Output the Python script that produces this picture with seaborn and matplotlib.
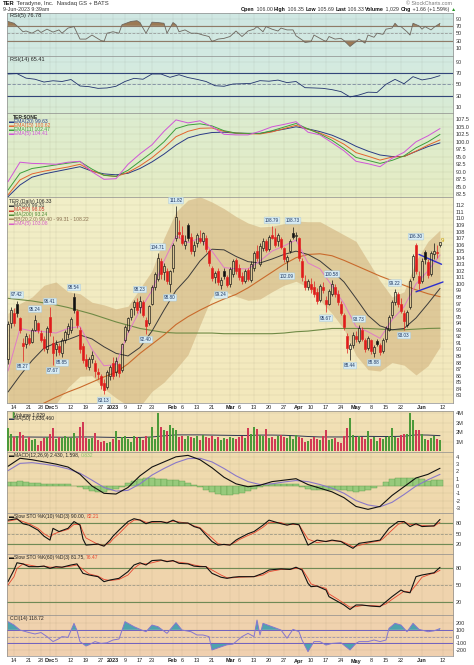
import numpy as np
import pandas as pd
import matplotlib
matplotlib.use("Agg")
import matplotlib.pyplot as plt
from matplotlib.colors import LinearSegmentedColormap
import seaborn as sns

# ------------------------------------------------------------------ data
holidays = ['2022-11-24', '2022-12-26', '2023-01-02', '2023-01-16',
            '2023-02-20', '2023-04-07', '2023-05-29']

opens = [88.5, 94.0, 95.5, 97.0, 94.8, 91.0, 90.8, 91.8, 91.2, 93.0,
         94.0, 92.5, 91.6, 90.0, 95.0, 91.0, 90.0, 90.5, 89.5, 91.5,
         92.3, 93.0, 98.0, 95.8, 93.0, 90.5, 88.6, 87.3, 88.6, 88.0,
         86.5, 86.0, 84.8, 84.2, 86.0, 88.0, 86.5, 87.8, 86.8, 91.5,
         93.0, 95.0, 96.5, 97.3, 96.5, 97.2, 94.5, 94.0, 97.0, 99.5,
         100.8, 103.5, 101.8, 102.0, 100.0, 102.5, 107.0, 108.0, 107.5, 106.0,
         109.0, 107.2, 105.0, 106.2, 107.0, 106.5, 107.0, 105.0, 102.5, 101.0,
         102.0, 99.8, 102.0, 101.0, 100.0, 101.5, 103.6, 102.5, 101.2, 100.5,
         102.2, 100.6, 102.5, 105.0, 103.0, 105.5, 106.5, 105.3, 107.5, 107.2,
         106.5, 106.8, 105.5, 103.5, 105.0, 107.8, 107.3, 107.0, 103.5, 100.5,
         99.6, 100.0, 99.5, 98.8, 97.6, 99.5, 97.5, 97.0, 98.5, 99.6,
         98.5, 97.0, 95.3, 92.0, 90.0, 90.6, 92.0, 91.3, 93.0, 91.5,
         90.2, 91.5, 89.5, 91.3, 90.6, 89.8, 91.6, 93.0, 95.2, 97.3,
         98.5, 97.0, 95.5, 93.8, 96.5, 101.0, 106.0, 101.2, 100.5, 104.8,
         103.4, 101.5, 104.5, 104.8, 106.00]
highs = [94.3, 96.5, 96.3, 97.42, 95.0, 91.8, 92.5, 92.3, 93.2, 95.24,
         94.2, 92.9, 92.0, 93.5, 96.41, 92.0, 91.5, 91.0, 91.8, 93.0,
         94.0, 95.0, 98.54, 96.2, 93.4, 91.0, 89.3, 88.8, 89.7, 88.4,
         87.2, 86.3, 85.5, 86.8, 87.6, 88.9, 88.8, 88.0, 91.0, 93.8,
         95.0, 96.3, 97.5, 97.8, 98.23, 97.5, 95.0, 96.8, 99.8, 101.8,
         104.71, 104.0, 103.2, 102.5, 102.2, 106.2, 111.82, 109.8, 108.8, 107.5,
         109.3, 107.8, 106.5, 107.8, 108.3, 108.0, 107.5, 105.3, 102.8, 102.0,
         102.4, 101.0, 102.5, 101.3, 102.6, 103.8, 104.0, 103.0, 101.8, 102.3,
         102.5, 103.5, 105.0, 105.9, 106.2, 107.0, 106.9, 107.5, 108.79, 108.5,
         107.8, 107.2, 105.7, 104.4, 106.8, 108.73, 108.0, 107.2, 104.0, 101.3,
         100.8, 100.9, 100.5, 99.4, 100.0, 100.3, 98.2, 99.2, 100.58, 100.0,
         99.0, 97.4, 95.6, 92.5, 91.0, 92.6, 92.8, 93.73, 93.4, 91.8,
         92.0, 91.6, 90.6, 91.6, 91.0, 91.8, 93.5, 95.3, 97.5, 99.22,
         98.8, 97.8, 96.0, 96.0, 100.8, 104.5, 106.30, 102.0, 104.0, 105.2,
         103.8, 105.0, 106.2, 106.0, 106.35]
lows = [87.8, 93.2, 93.6, 95.0, 92.5, 88.27, 90.2, 90.6, 91.0, 92.8,
        92.5, 91.2, 89.8, 89.5, 92.0, 87.67, 89.0, 89.2, 88.85, 91.0,
        91.8, 92.5, 95.5, 93.3, 89.5, 88.0, 87.0, 86.8, 88.0, 85.8,
        85.5, 84.0, 83.13, 84.0, 85.4, 85.5, 86.0, 85.8, 86.5, 91.2,
        92.6, 94.5, 95.3, 95.5, 95.6, 95.0, 92.40, 93.8, 96.8, 99.0,
        100.5, 100.8, 100.6, 100.0, 98.80, 101.8, 106.5, 107.0, 105.9, 105.3,
        106.6, 104.5, 104.2, 105.6, 106.2, 106.0, 104.9, 102.8, 100.5, 100.2,
        99.8, 99.24, 100.8, 99.5, 99.6, 101.0, 101.5, 100.6, 100.0, 100.2,
        100.4, 100.3, 102.0, 103.5, 102.7, 105.0, 104.8, 105.0, 106.8, 105.6,
        105.8, 105.3, 103.3, 102.09, 104.7, 106.9, 106.5, 103.5, 100.5, 99.0,
        99.0, 98.6, 98.0, 97.0, 97.3, 98.6, 95.67, 96.8, 98.2, 98.0,
        96.8, 95.2, 93.0, 89.5, 88.44, 90.2, 91.2, 91.0, 91.3, 89.6,
        89.9, 89.3, 88.88, 90.5, 89.2, 89.5, 91.2, 92.8, 94.8, 96.8,
        96.5, 95.5, 93.03, 93.4, 96.2, 100.6, 101.5, 99.3, 100.2, 103.0,
        100.9, 101.2, 103.8, 104.0, 105.69]
closes = [93.9, 96.0, 94.1, 95.6, 93.0, 90.5, 92.1, 91.0, 92.9, 94.5,
          93.0, 91.5, 90.2, 93.3, 92.6, 89.5, 90.8, 89.6, 91.4, 92.6,
          93.5, 94.6, 96.0, 93.8, 90.0, 88.4, 87.4, 88.5, 89.2, 86.7,
          86.2, 84.6, 83.8, 86.5, 87.3, 86.0, 88.2, 86.4, 90.8, 93.4,
          94.8, 96.1, 97.2, 96.0, 97.4, 95.3, 93.6, 96.6, 99.5, 101.5,
          104.0, 101.5, 102.7, 100.4, 101.9, 105.9, 110.2, 107.6, 106.2, 106.5,
          107.0, 105.0, 106.0, 107.5, 106.6, 107.8, 105.3, 103.2, 100.9, 101.6,
          100.3, 100.6, 101.2, 99.9, 102.3, 103.5, 101.9, 101.0, 100.5, 102.0,
          100.8, 103.1, 104.7, 104.0, 105.8, 106.6, 105.2, 107.2, 107.0, 106.0,
          107.4, 105.7, 103.8, 104.1, 106.5, 107.2, 107.5, 103.9, 101.0, 99.5,
          100.5, 99.2, 98.4, 97.4, 99.7, 99.0, 96.9, 98.9, 100.0, 98.4,
          97.2, 95.6, 93.4, 90.2, 90.6, 92.2, 91.6, 93.2, 91.6, 90.0,
          91.7, 89.7, 90.3, 90.9, 89.6, 91.4, 93.2, 95.0, 97.2, 98.8,
          96.9, 95.8, 94.3, 95.7, 100.5, 104.2, 102.0, 100.2, 103.5, 103.8,
          101.3, 104.7, 105.0, 104.67, 106.33]
volume_m = [2.5, 1.8, 1.5, 1.6, 2.0, 1.7, 1.3, 1.5, 1.2, 1.3,
            0.6, 1.1, 1.4, 1.5, 1.8, 2.4, 1.3, 1.5, 1.4, 1.6,
            1.5, 1.4, 1.9, 1.4, 2.6, 3.1, 1.4, 1.3, 1.4, 1.9,
            1.2, 1.0, 1.1, 0.9, 1.0, 1.3, 2.1, 1.2, 1.5, 1.6,
            1.3, 1.0, 1.6, 1.5, 1.4, 1.2, 1.6, 1.5, 2.6, 1.3,
            4.0, 2.6, 2.2, 2.1, 2.8, 2.5, 2.2, 1.5, 1.6, 1.3,
            1.6, 1.5, 1.4, 1.6, 1.2, 1.7, 1.5, 1.4, 1.6, 1.3,
            1.5, 1.2, 1.4, 1.3, 1.5, 1.4, 1.3, 1.5, 1.6, 1.4,
            2.4, 1.8, 2.6, 2.3, 1.7, 1.6, 2.3, 1.4, 1.5, 1.3,
            1.6, 1.7, 1.5, 1.4, 1.6, 1.3, 1.7, 1.5, 1.4, 1.0,
            1.1, 1.3, 1.5, 1.3, 1.2, 1.6, 2.2, 1.2, 1.3, 1.4,
            1.0, 0.9, 1.6, 2.4, 3.5, 1.7, 1.5, 1.6, 1.5, 1.3,
            2.1, 1.3, 1.5, 1.1, 1.4, 1.3, 1.5, 1.6, 2.4, 1.5,
            1.4, 1.7, 1.8, 1.8, 4.0, 3.3, 2.2, 2.2, 1.8, 1.3,
            1.2, 1.4, 1.6, 1.3, 1.2]

tick_dates = ['2022-11-14', '2022-11-21', '2022-11-28', '2022-12-01', '2022-12-05',
              '2022-12-12', '2022-12-19', '2022-12-27', '2023-01-03', '2023-01-09',
              '2023-01-17', '2023-01-23', '2023-02-01', '2023-02-06', '2023-02-13',
              '2023-02-21', '2023-03-01', '2023-03-06', '2023-03-13', '2023-03-20',
              '2023-03-27', '2023-04-03', '2023-04-10', '2023-04-17', '2023-04-24',
              '2023-05-01', '2023-05-08', '2023-05-15', '2023-05-22', '2023-06-01',
              '2023-06-12']
tick_labels = ['14', '21', '28', 'Dec', '5', '12', '19', '27', '2023', '9', '17', '23',
               'Feb', '6', '13', '21', 'Mar', '6', '13', '20', '27', 'Apr', '10', '17',
               '24', 'May', '8', '15', '22', 'Jun', '12']
bold_labels = ['Dec', '2023', 'Feb', 'Mar', 'Apr', 'May', 'Jun']

# smooth series sampled every 4 trading days (day 0, 4, ..., 144)
ema20 = [81.7, 85.6, 88.2, 89.3, 90.1, 90.9, 91.7, 90.2, 89.3, 89.0, 89.5, 91.1, 93.3,
         95.9, 98.9, 101.3, 102.4, 103.1, 103.2, 102.9, 102.8, 102.8, 103.5, 104.2, 105.0,
         104.3, 103.4, 102.2, 100.5, 98.5, 96.9, 95.6, 95.1, 95.1, 96.8, 98.4, 99.63]
ema15 = [82.3, 87.3, 89.3, 90.2, 90.9, 91.6, 92.5, 90.3, 88.9, 88.4, 89.8, 92.0, 94.7,
         98.0, 101.7, 103.5, 104.5, 104.6, 103.5, 102.9, 102.7, 102.6, 103.3, 104.4, 105.5,
         104.2, 102.9, 101.3, 99.2, 96.4, 95.2, 93.9, 94.9, 95.1, 96.9, 98.9, 100.62]
ema11 = [83.9, 89.5, 91.1, 91.7, 92.3, 92.9, 93.4, 90.9, 88.8, 88.5, 90.5, 93.5, 96.5,
         100.0, 104.4, 105.6, 106.0, 105.3, 103.7, 102.9, 102.8, 102.8, 103.7, 104.9, 106.1,
         104.3, 102.6, 100.5, 97.8, 94.8, 93.8, 92.8, 93.8, 95.3, 98.0, 100.0, 102.47]
ema5 = [86.7, 93.2, 92.8, 92.7, 92.5, 93.2, 93.5, 90.0, 87.5, 87.7, 92.5, 96.0, 99.0,
        103.5, 107.3, 106.3, 107.0, 105.0, 102.5, 102.3, 102.3, 103.5, 105.0, 105.8, 106.7,
        103.2, 102.3, 99.7, 97.0, 93.5, 92.7, 91.7, 94.5, 96.5, 100.0, 102.0, 104.41]
ma20 = [83.5, 86.0, 88.3, 90.2, 91.0, 91.5, 92.2, 91.6, 90.4, 89.4, 89.0, 90.3, 92.8,
        96.0, 99.0, 101.0, 103.5, 105.3, 105.2, 104.2, 103.4, 103.2, 103.8, 104.5, 105.0,
        104.5, 103.5, 102.0, 100.3, 97.8, 95.2, 93.6, 93.0, 93.2, 94.8, 97.0, 99.31]
ma50 = [79.5, 80.3, 81.0, 81.8, 82.7, 83.5, 84.2, 85.0, 85.8, 86.5, 87.8, 89.4, 90.8,
        92.2, 93.8, 95.0, 96.0, 96.9, 97.7, 98.4, 99.4, 100.6, 101.8, 103.0, 104.0,
        104.5, 104.6, 104.3, 103.6, 102.8, 102.0, 101.2, 100.5, 99.8, 99.1, 98.5, 98.05]
ma200 = [97.8, 97.6, 97.4, 97.1, 96.8, 96.4, 95.9, 95.4, 94.8, 94.2, 93.7, 93.2, 92.9,
         92.6, 92.5, 92.5, 92.5, 92.5, 92.4, 92.4, 92.4, 92.4, 92.4, 92.5, 92.7,
         92.8, 93.0, 93.2, 93.2, 93.2, 93.2, 93.1, 93.0, 93.0, 93.1, 93.2, 93.24]
bb_upper = [95.5, 97.0, 98.0, 99.8, 100.3, 98.8, 98.5, 97.2, 96.8, 96.2, 96.6, 99.3, 102.0,
            107.0, 111.0, 112.8, 113.3, 112.5, 111.5, 110.3, 109.3, 108.7, 108.8, 109.2, 109.6,
            109.5, 109.5, 108.5, 107.5, 106.5, 103.5, 100.5, 98.0, 98.8, 103.5, 106.5, 108.22]
bb_lower = [71.5, 75.0, 78.6, 80.6, 81.7, 84.2, 85.9, 86.0, 84.0, 82.6, 81.4, 81.3, 83.6,
            85.0, 87.0, 89.2, 93.7, 98.1, 98.9, 98.1, 97.5, 97.7, 98.8, 99.8, 100.4,
            99.5, 97.5, 95.5, 93.1, 89.1, 86.9, 86.7, 88.0, 87.6, 86.1, 87.5, 90.40]
vol_ma_m = [1.50, 1.50, 1.49, 1.48, 1.48, 1.47, 1.50, 1.50, 1.47, 1.45, 1.44, 1.45, 1.50,
            1.62, 1.72, 1.72, 1.72, 1.70, 1.68, 1.66, 1.66, 1.70, 1.70, 1.68, 1.62,
            1.55, 1.50, 1.50, 1.50, 1.56, 1.56, 1.55, 1.55, 1.58, 1.72, 1.70, 1.64]
macd_line = [2.7, 3.8, 3.6, 3.3, 3.0, 2.6, 1.6, 0.0, -1.0, -1.1, -0.2, 1.4, 2.6,
             3.3, 4.0, 4.2, 3.6, 2.5, 1.2, 0.3, -0.1, 0.1, 0.6, 0.8, 1.0,
             0.2, -0.3, -0.8, -1.6, -2.8, -3.2, -2.8, -1.3, -0.1, 1.1, 1.6, 2.43]
macd_signal = [2.1, 3.1, 3.2, 3.0, 2.75, 2.35, 1.75, 0.8, -0.2, -0.7, -0.6, 0.3, 1.5,
               2.4, 3.2, 3.75, 3.8, 3.3, 2.4, 1.4, 0.6, 0.2, 0.3, 0.55, 0.75,
               0.6, 0.2, -0.3, -1.0, -2.0, -2.6, -2.85, -2.24, -1.17, 0.0, 0.86, 1.598]
# histogram sampled every 2 trading days
macd_hist = [0.5, 0.6, 0.7, 0.55, 0.4, 0.35, 0.3, 0.28, 0.25, 0.25, 0.22, 0.05, -0.15,
             -0.45, -0.75, -0.85, -0.8, -0.6, -0.4, -0.1, 0.35, 0.75, 1.0, 1.1, 1.1,
             1.0, 0.9, 0.85, 0.8, 0.65, 0.45, 0.15, -0.2, -0.5, -0.8, -1.05, -1.2,
             -1.2, -1.1, -0.9, -0.7, -0.4, -0.1, 0.15, 0.3, 0.3, 0.25, 0.25, 0.25,
             -0.1, -0.4, -0.5, -0.5, -0.5, -0.5, -0.55, -0.6, -0.7, -0.8, -0.75, -0.6,
             -0.3, 0.05, 0.5, 0.9, 1.05, 1.07, 1.1, 1.1, 0.9, 0.74, 0.78, 0.83]
# RSI(14) sampled every 3 trading days
rsi14 = [68.3, 69.0, 61.0, 59.0, 54.0, 56.3, 55.0, 58.5, 47.0, 45.8, 42.8, 43.5, 46.5,
         55.0, 60.6, 59.0, 68.3, 68.3, 62.4, 67.0, 62.0, 58.8, 55.0, 47.5, 46.5,
         50.5, 51.0, 51.7, 56.5, 55.5, 57.5, 53.0, 55.0, 44.0, 43.5, 42.8, 40.5,
         37.0, 27.5, 31.0, 36.0, 35.5, 50.0, 58.8, 51.0, 63.6, 57.8, 60.6, 65.41]
rsi5_day = [0, 2, 3, 5, 6, 8, 10, 11, 13, 15, 17, 18, 20, 22, 24, 26, 28, 31, 32, 33,
            35, 37, 38, 41, 43, 44, 45, 46, 48, 50, 52, 53, 55, 56, 57, 59, 61, 63, 65, 67,
            68, 70, 72, 74, 76, 78, 80, 82, 83, 85, 86, 88, 90, 91, 93, 95, 96, 98, 99, 101,
            102, 104, 106, 107, 109, 111, 112, 114, 116, 117, 119, 120, 122, 123, 125, 126,
            128, 129, 130, 131, 133, 134, 135, 137, 138, 139, 141, 142, 144]
rsi5 = [82, 77, 70, 54, 56, 50, 59, 52, 61, 53, 59, 50, 64, 68, 34, 34, 45, 30, 27, 50,
        54, 50, 73, 82, 84, 79, 64, 50, 80, 79, 77, 50, 79, 73, 54, 59, 50, 50, 45, 41,
        27, 34, 36, 41, 56, 41, 56, 61, 68, 54, 68, 61, 56, 64, 59, 59, 43, 32, 25, 27,
        45, 36, 27, 41, 34, 36, 30, 14, 27, 34, 23, 45, 39, 50, 47, 61, 64, 77, 68, 68,
        54, 45, 77, 70, 61, 68, 59, 66, 76.78]
sto10_day = [0, 3, 5, 7, 10, 12, 14, 15, 17, 20, 22, 24, 25, 26, 30, 32, 34, 35, 37, 40,
             42, 44, 46, 48, 51, 53, 55, 57, 60, 62, 64, 66, 68, 70, 72, 74, 76, 77, 80, 82,
             85, 87, 91, 93, 95, 97, 100, 103, 106, 108, 111, 113, 115, 117, 121, 124, 125,
             127, 130, 132, 134, 136, 138, 142, 144]
sto10_k = [88, 92, 78, 74, 60, 43, 32, 65, 56, 65, 84, 74, 35, 18, 21, 15, 32, 43, 60, 84,
           92, 88, 78, 84, 84, 80, 88, 80, 80, 70, 65, 46, 28, 18, 20, 18, 32, 37, 50, 56,
           74, 88, 78, 74, 78, 75, 18, 32, 28, 32, 28, 18, 9, 23, 28, 32, 43, 65, 84, 84,
           70, 78, 70, 72, 90.00]
sto10_d = [85, 90, 84, 78, 65, 50, 40, 48, 55, 62, 76, 76, 55, 38, 20, 17, 25, 35, 50, 76,
           88, 89, 82, 82, 83, 82, 85, 83, 79, 72, 67, 52, 38, 22, 19, 19, 27, 33, 45, 52,
           68, 82, 81, 75, 76, 75, 35, 25, 29, 30, 29, 22, 13, 17, 26, 30, 36, 52, 76, 83,
           76, 75, 73, 71, 82.21]
sto60_day = [0, 2, 3, 5, 7, 10, 12, 14, 16, 18, 21, 23, 25, 27, 30, 32, 34, 37, 40, 42,
             44, 46, 48, 51, 53, 55, 57, 60, 62, 64, 66, 68, 71, 73, 75, 77, 82, 85, 87, 91,
             94, 96, 98, 100, 101, 103, 106, 107, 110, 112, 114, 116, 118, 121, 124, 126,
             128, 131, 132, 134, 136, 138, 141, 142, 144]
sto60_k = [56, 77, 90, 88, 83, 83, 84, 80, 83, 82, 86, 88, 71, 68, 65, 56, 59, 62, 74, 86,
           90, 86, 94, 95, 92, 94, 89, 88, 84, 83, 83, 71, 64, 62, 64, 65, 65, 71, 77, 79,
           78, 82, 77, 53, 47, 48, 41, 29, 20, 14, 6, 14, 14, 12, 11, 20, 29, 41, 38, 36,
           65, 68, 71, 72, 81.75]
sto60_d = [50, 65, 80, 88, 86, 83, 84, 82, 82, 82, 84, 86, 78, 70, 66, 60, 58, 60, 68, 80,
           88, 88, 90, 94, 93, 93, 91, 89, 86, 84, 83, 77, 68, 63, 63, 64, 65, 68, 74, 78,
           78, 80, 79, 62, 52, 48, 44, 34, 24, 17, 10, 11, 13, 13, 12, 16, 24, 35, 39, 37,
           50, 64, 70, 71, 76.47]
cci_day = [0, 2, 4, 6, 7, 9, 11, 13, 15, 17, 18, 20, 21, 22, 23, 24, 26, 27, 29, 31,
           33, 35, 37, 39, 42, 44, 46, 48, 50, 53, 56, 58, 61, 63, 65, 67, 68, 71, 73, 75,
           78, 80, 82, 83, 84, 85, 88, 91, 93, 95, 97, 98, 100, 102, 104, 106, 108, 111,
           114, 116, 117, 120, 122, 124, 126, 127, 129, 131, 133, 135, 137, 140, 142, 144]
cci = [220, 170, 97, 72, 60, 39, 60, 0, -73, -30, 0, -10, 90, 195, 90, -73, -138, -120,
       -73, -100, -90, -50, -35, 220, 146, 107, 72, 170, 146, 48, 205, 97, 72, 24, 24, 0,
       -196, -150, -120, -110, 0, 48, 0, 244, 24, 195, 146, 97, -24, 107, 72, -50, -221,
       -73, -73, -124, -100, -90, -196, -100, -73, -73, -50, -73, -50, 122, 195, 170, 72,
       195, 107, 72, 85, 118.72]

high_marks = [(3, 97.42), (9, 95.24), (14, 96.41), (22, 98.54), (44, 98.23), (50, 104.71),
              (56, 111.82), (88, 108.79), (95, 108.73), (108, 100.58), (117, 93.73),
              (129, 99.22), (136, 106.30)]
low_marks = [(5, 88.27), (15, 87.67), (18, 88.85), (32, 83.13), (46, 92.40), (54, 98.80),
             (71, 99.24), (93, 102.09), (106, 95.67), (114, 88.44), (122, 88.88), (132, 93.03)]
tri_upper_day, tri_upper_val = [137, 144.5], [104.5, 103.0]
tri_lower_day, tri_lower_val = [136, 145], [98.8, 100.3]

# ------------------------------------------------------------------ setup
sns.set_theme(style="white")
plt.rcParams['font.family'] = ['Liberation Sans', 'DejaVu Sans']
W, H = 474, 665
fig = plt.figure(figsize=(W / 100, H / 100), dpi=100)
fig.patch.set_facecolor('white')

cal = pd.bdate_range('2022-11-10', '2023-06-16')
cal = cal[~cal.isin(pd.to_datetime(holidays))]
day_of = {d.strftime('%Y-%m-%d'): k for k, d in enumerate(cal)}
tick_pos = [day_of[d] for d in tick_dates]

days = np.arange(len(closes))
d4 = np.arange(0, len(closes), 4)
d3 = np.arange(0, len(closes), 3)
d2 = np.arange(0, len(closes), 2)
o, h, l, c = map(np.array, (opens, highs, lows, closes))

XL = (-0.33, 148.33)
GRID = (0.25, 0.25, 0.15, 0.13)
FS = 4.0


def make_ax(y0, y1, ylim, c_top, c_bot, ticks, labels):
    ax = fig.add_axes([7 / W, 1 - y1 / H, 446 / W, (y1 - y0) / H])
    cmap = LinearSegmentedColormap.from_list('bg', [c_top, c_bot])
    ax.imshow(np.linspace(0, 1, 64).reshape(-1, 1), cmap=cmap, extent=[0, 1, 0, 1],
              transform=ax.transAxes, aspect='auto', zorder=-20, interpolation='bilinear')
    ax.set_xlim(XL)
    ax.set_ylim(ylim)
    ax.set_xticks([])
    ax.set_yticks(ticks)
    ax.set_yticklabels(labels)
    ax.yaxis.tick_right()
    ax.tick_params(axis='y', length=0, labelsize=FS, pad=2, labelcolor='#333333')
    for s in ax.spines.values():
        s.set_color('#8c8c8c')
        s.set_linewidth(0.5)
    for t in tick_pos:
        ax.axvline(t, color=GRID, lw=0.35, zorder=-10)
    for t in ticks:
        ax.axhline(t, color=GRID, lw=0.35, zorder=-10)
    ax.set_xlabel('')
    ax.set_ylabel('')
    return ax


def line(ax, x, y, color, lw=0.7, **kw):
    sns.lineplot(x=np.asarray(x, float), y=np.asarray(y, float), ax=ax, color=color,
                 linewidth=lw, estimator=None, sort=False, legend=False, **kw)
    ax.set_xlabel('')
    ax.set_ylabel('')


def seq_text(x_px, y_px, parts, ha='left', size=FS):
    r = fig.canvas.get_renderer()
    objs, widths = [], []
    for t, w, col in parts:
        ob = fig.text(0, 0, t, fontsize=size, fontweight=w, color=col, va='center', ha='left')
        widths.append(ob.get_window_extent(renderer=r).width)
        objs.append(ob)
    x = x_px if ha == 'left' else x_px - sum(widths)
    for ob, wd in zip(objs, widths):
        ob.set_position((x / W, 1 - y_px / H))
        x += wd


def date_axis(ax, frac):
    for p, lab in zip(tick_pos, tick_labels):
        ax.text(p, frac, lab, transform=ax.get_xaxis_transform(), ha='center', va='center',
                fontsize=FS, color='#222222',
                fontweight='bold' if lab in bold_labels else 'normal')

# ------------------------------------------------------------------ RSI(5)
ax = make_ax(13, 56, (-12, 105), '#cfe7e3', '#d3eae2', [90, 70, 50, 30, 10],
             ['90', '70', '50', '30', '10'])
rv = np.array(rsi5, float)
rd = np.array(rsi5_day, float)
ax.fill_between(rd, rv, 70, where=rv > 70, interpolate=True, color='#9c7a55', lw=0)
ax.fill_between(rd, rv, 30, where=rv < 30, interpolate=True, color='#9c7a55', lw=0)
ax.axhline(70, color='#8f7b68', lw=0.8)
ax.axhline(30, color='#8f7b68', lw=0.8)
ax.axhline(50, color='#8f8f8f', lw=0.5, ls=(0, (4, 2)))
line(ax, rd, rv, '#6e675f', lw=0.6)
seq_text(10, 16, [('RSI(5) 76.78', 'normal', '#222222')])

# ------------------------------------------------------------------ RSI(14)
ax = make_ax(56, 113, (-1, 100.3), '#d3eae2', '#d9ecd4', [90, 70, 50, 30, 10],
             ['90', '70', '50', '30', '10'])
ax.axhline(70, color='#33457a', lw=0.8)
ax.axhline(30, color='#33457a', lw=0.8)
ax.axhline(50, color='#7d8aa0', lw=0.6, ls=(0, (4, 2)))
line(ax, d3, rsi14, '#22336e', lw=0.6)
seq_text(10, 59, [('RSI(14) 65.41', 'normal', '#222222')])

# ------------------------------------------------------------------ EMA panel
ema_ticks = [107.5, 105.0, 102.5, 100.0, 97.5, 95.0, 92.5, 90.0, 87.5, 85.0, 82.5]
ax = make_ax(113, 197, (81.6, 109.6), '#dcecd0', '#e6edc4', ema_ticks,
             [f'{t:.1f}' for t in ema_ticks])
line(ax, d4, ema20, '#2a3a86', lw=0.7)
line(ax, d4, ema15, '#e3642e', lw=0.7)
line(ax, d4, ema11, '#3c9f3c', lw=0.7)
line(ax, d4, ema5, '#d055d8', lw=0.7)
seq_text(13, 117, [('TER:\\$ONE', 'bold', '#222222')], size=3.6)
seq_text(9, 121.5, [('\u25ac', 'normal', '#2a3a86'), ('EMA(20) 99.63', 'normal', '#2a3a86')], size=3.6)
seq_text(9, 125.5, [('\u25ac', 'normal', '#e3642e'), ('EMA(15) 100.62', 'normal', '#e3642e')], size=3.6)
seq_text(9, 129.5, [('\u25ac', 'normal', '#3c9f3c'), ('EMA(11) 102.47', 'normal', '#3c9f3c')], size=3.6)
seq_text(9, 133.5, [('\u25ac', 'normal', '#d055d8'), ('EMA(5) 104.41', 'normal', '#d055d8')], size=3.6)

# ------------------------------------------------------------------ price panel
pt = list(range(83, 113))
ax = make_ax(197, 403, (81.82, 113.27), '#f1efc8', '#f4e8bc', pt, [str(t) for t in pt])
ax.fill_between(d4, bb_lower, bb_upper, color='#cfae78', alpha=0.55, lw=0, zorder=-5)
line(ax, d4, ma200, '#6f8a45', lw=0.8)
line(ax, d4, ma50, '#c96a2c', lw=0.8)
line(ax, d4, ma20, '#3a3a3a', lw=0.7)
line(ax, d4, ema5, '#e07ac8', lw=0.7)

prev = np.r_[c[0] - 1, c[:-1]]
ccol = np.where(c < prev, '#e01b1b', '#111111')
top = np.maximum(o, c)
bot = np.minimum(o, c)
ax.vlines(days, top, h, colors=ccol, lw=0.5, zorder=3)
ax.vlines(days, l, bot, colors=ccol, lw=0.5, zorder=3)
filled = c < o
face = [cc if f else 'none' for cc, f in zip(ccol, filled)]
ax.bar(days, np.maximum(top - bot, 0.06), bottom=bot, width=0.62, color=face,
       edgecolor=ccol, linewidth=0.45, zorder=4)

line(ax, tri_upper_day, tri_upper_val, '#2b2fd0', lw=1.0)
line(ax, tri_lower_day, tri_lower_val, '#2b2fd0', lw=1.0)
ax.text(144.7, 106.6, '9', fontsize=4.5, color='#c9a000', ha='center', va='center')

bbx = dict(boxstyle='round,pad=0.18', fc='#d7ebf3', ec='#a7c7d6', lw=0.3)
for d, v in high_marks:
    ax.annotate(f'{v:.2f}', (d, v), xytext=(0, 2.5), textcoords='offset points',
                ha='center', va='bottom', fontsize=3.3, color='#1d355f', bbox=bbx, zorder=6)
for d, v in low_marks:
    ax.annotate(f'{v:.2f}', (d, v), xytext=(0, -2.5), textcoords='offset points',
                ha='center', va='top', fontsize=3.3, color='#1d355f', bbox=bbx, zorder=6)

seq_text(9, 201, [('TER (Daily) 106.33', 'normal', '#222222')], size=3.6)
seq_text(9, 205.5, [('\u25ac', 'normal', '#3a3a3a'), ('MA(20) 99.31', 'normal', '#3a3a3a')], size=3.6)
seq_text(9, 210, [('\u25ac', 'normal', '#c93a2c'), ('MA(50) 98.05', 'normal', '#c93a2c')], size=3.6)
seq_text(9, 214.5, [('\u25ac', 'normal', '#4f8a35'), ('MA(200) 93.24', 'normal', '#4f8a35')], size=3.6)
seq_text(9, 219, [('\u25ac', 'normal', '#a88a5a'), ('BB(20,2.0) 90.40 - 99.31 - 108.22', 'normal', '#8a7050')], size=3.6)
seq_text(9, 223.5, [('\u25ac', 'normal', '#d860c8'), ('EMA(5) 103.08', 'normal', '#d860c8')], size=3.6)
date_axis(ax, -4.2 / 206)

# ------------------------------------------------------------------ volume
ax = make_ax(411, 452, (-0.1, 4.26), '#f2e2b8', '#f0dcb0', [1, 2, 3, 4],
             ['1M', '2M', '3M', '4M'])
vcol = np.where(c < prev, '#d23a55', '#4c9a3a')
ax.bar(days, volume_m, width=0.72, color=vcol, linewidth=0, zorder=3)
line(ax, d4, vol_ma_m, '#2d3550', lw=0.7)
seq_text(10, 414.5, [('\u2590', 'normal', '#4c9a3a'), ('Volume 1,029', 'normal', '#222222')], size=3.6)
seq_text(9, 418.5, [('\u25ac', 'normal', '#2d3550'), ('MA(50) 1,636,460', 'normal', '#222222')], size=3.6)

# ------------------------------------------------------------------ MACD
mt = [4, 3, 2, 1, 0, -1, -2, -3]
ax = make_ax(452, 513, (-3.7, 4.66), '#f0dcb0', '#efd8ad', mt, [str(t) for t in mt])
ax.bar(d2, macd_hist, width=1.9, color='#97ca7c', edgecolor='#5f9e4a', linewidth=0.3, zorder=2)
line(ax, d4, macd_signal, '#8a78c8', lw=0.8)
line(ax, d4, macd_line, '#111111', lw=0.8)
seq_text(9, 455.5, [('\u25ac', 'normal', '#111111'), ('MACD(12,26,9) 2.430, 1.598, ', 'normal', '#222222'),
                    ('0.832', 'normal', '#8cc46a')], size=3.6)

# ------------------------------------------------------------------ Slow STO 10
ax = make_ax(513, 554, (-6.9, 108), '#efd8ad', '#efd5ac', [80, 50, 20], ['80', '50', '20'])
ax.axhline(80, color='#6f8a55', lw=0.8)
ax.axhline(20, color='#6f8a55', lw=0.8)
ax.axhline(50, color='#8f8f80', lw=0.5, ls=(0, (4, 2)))
line(ax, sto10_day, sto10_d, '#e8452f', lw=0.6)
line(ax, sto10_day, sto10_k, '#111111', lw=0.8)
seq_text(9, 516.5, [('\u25ac', 'normal', '#111111'), ('Slow STO %K(10) %D(3) 90.00, ', 'normal', '#222222'),
                    ('82.21', 'normal', '#e8452f')], size=3.6)

# ------------------------------------------------------------------ Slow STO 60
ax = make_ax(554, 615, (-4, 105.8), '#efd5ac', '#f0d3ae', [80, 50, 20], ['80', '50', '20'])
ax.axhline(80, color='#6f8a55', lw=0.8)
ax.axhline(20, color='#6f8a55', lw=0.8)
ax.axhline(50, color='#8f8f80', lw=0.5, ls=(0, (4, 2)))
line(ax, sto60_day, sto60_d, '#e8452f', lw=0.6)
line(ax, sto60_day, sto60_k, '#111111', lw=0.8)
seq_text(9, 557.5, [('\u25ac', 'normal', '#111111'), ('Slow STO %K(60) %D(3) 81.75, ', 'normal', '#222222'),
                    ('76.47', 'normal', '#e8452f')], size=3.6)

# ------------------------------------------------------------------ CCI
ct = [200, 100, 0, -100, -200]
ax = make_ax(615, 656, (-285, 318), '#f0d3ae', '#f1d0b0', ct, [str(t) for t in ct])
cv = np.array(cci, float)
cd = np.array(cci_day, float)
ax.fill_between(cd, cv, 100, where=cv > 100, interpolate=True, color='#4ea3ae', lw=0)
ax.fill_between(cd, cv, -100, where=cv < -100, interpolate=True, color='#4ea3ae', lw=0)
ax.axhline(100, color='#7060c0', lw=0.7)
ax.axhline(-100, color='#7060c0', lw=0.7)
ax.axhline(0, color='#8c86b0', lw=0.5, ls=(0, (4, 2)))
line(ax, cd, cv, '#8576cf', lw=0.7)
seq_text(10, 618.5, [('CCI(14) 118.72', 'normal', '#222222')], size=3.6)
date_axis(ax, -5.0 / 41)

# ------------------------------------------------------------------ header
seq_text(3, 3.5, [('TER', 'bold', '#111111'), (' Teradyne, Inc.  Nasdaq GS + BATS', 'normal', '#333333')], size=4.2)
seq_text(3, 9.2, [('9-Jun-2023 9:39am', 'normal', '#333333')], size=3.8)
seq_text(452, 3.5, [('\u00a9 StockCharts.com', 'normal', '#777777')], ha='right', size=3.8)
seq_text(456, 9.2, [('Open', 'bold', '#111111'), (' 106.00 ', 'normal', '#333333'),
                    ('High', 'bold', '#111111'), (' 106.35 ', 'normal', '#333333'),
                    ('Low', 'bold', '#111111'), (' 105.69 ', 'normal', '#333333'),
                    ('Last', 'bold', '#111111'), (' 106.33 ', 'normal', '#333333'),
                    ('Volume', 'bold', '#111111'), (' 1,029 ', 'normal', '#333333'),
                    ('Chg', 'bold', '#111111'), (' +1.66 (+1.59%) ', 'normal', '#333333'),
                    ('\u25b2', 'normal', '#2a9a2a')], ha='right', size=3.8)

fig.savefig('out.png', dpi=100)
